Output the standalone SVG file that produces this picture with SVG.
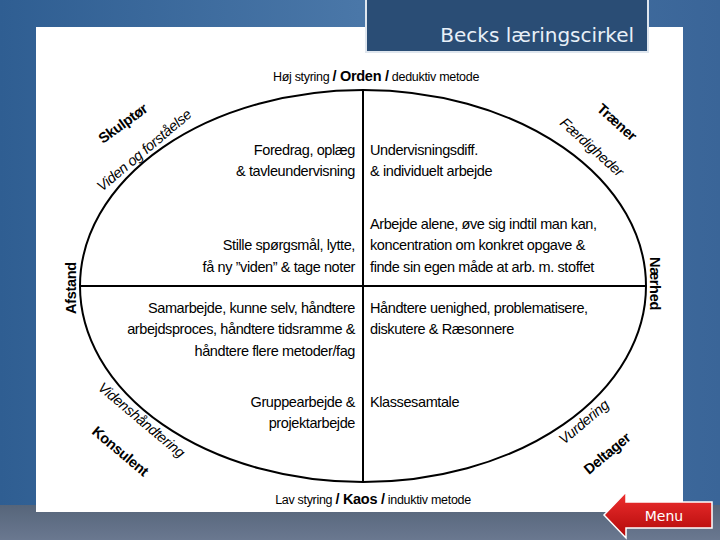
<svg xmlns="http://www.w3.org/2000/svg" width="720" height="540" viewBox="0 0 720 540">
<defs>
<linearGradient id="bg" x1="0" y1="0" x2="1" y2="0"><stop offset="0" stop-color="#2f5e92"/><stop offset="0.5" stop-color="#4a77a8"/><stop offset="1" stop-color="#3a6598"/></linearGradient>
<linearGradient id="bot" x1="0" y1="0" x2="0" y2="1"><stop offset="0" stop-color="#56657a"/><stop offset="1" stop-color="#6a7890"/></linearGradient>
<linearGradient id="red" x1="0" y1="0" x2="0" y2="1"><stop offset="0" stop-color="#f03030"/><stop offset="1" stop-color="#b00808"/></linearGradient>
</defs>
<style>
text{font-family:"Liberation Sans Narrow","Liberation Sans",Arial,sans-serif;fill:#000}
.t{font-size:14.5px;letter-spacing:-0.4px}
.b{font-weight:bold;font-size:14.5px;letter-spacing:-0.3px}
.i{font-style:italic;font-size:14.5px;letter-spacing:-0.3px}
.s{font-size:12.5px;letter-spacing:-0.3px}
</style>
<rect width="720" height="540" fill="url(#bg)"/>
<rect y="505" width="720" height="35" fill="url(#bot)"/>
<rect x="36" y="27" width="647" height="485" fill="#fff"/>
<g id="title"><rect x="366" y="-2" width="282" height="54" fill="#2a4d75" stroke="#dfe6ee" stroke-width="2"/>
<text x="634" y="42" text-anchor="end" style="font-family:'DejaVu Sans',sans-serif;font-size:20px;fill:#e8f0f8">Becks læringscirkel</text></g>
<g id="connectors" stroke="#000" stroke-width="2" fill="none">
<ellipse cx="363" cy="286" rx="283" ry="196"/>
<line x1="363" y1="90" x2="363" y2="482"/>
<line x1="80" y1="286" x2="646" y2="286"/>
</g>
<g id="top"><text x="376" y="81" text-anchor="middle"><tspan class="s">Høj styring </tspan><tspan class="b">/ Orden /</tspan><tspan class="s"> deduktiv metode</tspan></text></g>
<g id="bottom"><text x="373" y="504" text-anchor="middle"><tspan class="s">Lav styring </tspan><tspan class="b">/ Kaos /</tspan><tspan class="s"> induktiv metode</tspan></text></g>
<g id="q1">
<text x="355" y="155" text-anchor="end" class="t">Foredrag, oplæg</text>
<text x="355" y="176" text-anchor="end" class="t">&amp; tavleundervisning</text>
<text x="355" y="250" text-anchor="end" class="t">Stille spørgsmål, lytte,</text>
<text x="355" y="272" text-anchor="end" class="t">få ny ”viden” &amp; tage noter</text>
</g>
<g id="q2">
<text x="370" y="155" class="t">Undervisningsdiff.</text>
<text x="370" y="176" class="t"> &amp; individuelt arbejde</text>
<text x="370" y="229" class="t">Arbejde alene, øve sig indtil man kan,</text>
<text x="370" y="250" class="t">koncentration om konkret opgave &amp;</text>
<text x="370" y="272" class="t">finde sin egen måde at arb. m. stoffet</text>
</g>
<g id="q3">
<text x="355" y="313" text-anchor="end" class="t">Samarbejde, kunne selv, håndtere</text>
<text x="355" y="334" text-anchor="end" class="t">arbejdsproces, håndtere tidsramme &amp;</text>
<text x="355" y="356" text-anchor="end" class="t">håndtere flere metoder/fag</text>
<text x="355" y="407" text-anchor="end" class="t">Gruppearbejde &amp;</text>
<text x="355" y="428" text-anchor="end" class="t">projektarbejde</text>
</g>
<g id="q4">
<text x="370" y="313" class="t">Håndtere uenighed, problematisere,</text>
<text x="370" y="334" class="t">diskutere &amp; Ræsonnere</text>
<text x="370" y="407" class="t">Klassesamtale</text>
</g>
<g id="labels">
<text transform="translate(103,144) rotate(-36)" class="b">Skulptør</text>
<text transform="translate(102,192) rotate(-40)" class="i">Viden og forståelse</text>
<text transform="translate(596,110) rotate(42)" class="b">Træner</text>
<text transform="translate(559,124) rotate(42)" class="i">Færdigheder</text>
<text transform="translate(76,314) rotate(-90)" class="b">Afstand</text>
<text transform="translate(650,257) rotate(90)" class="b">Nærhed</text>
<text transform="translate(97,389) rotate(40)" class="i">Videnshåndtering</text>
<text transform="translate(91,433) rotate(40)" class="b">Konsulent</text>
<text transform="translate(564,445) rotate(-40)" class="i">Vurdering</text>
<text transform="translate(589,475) rotate(-40)" class="b">Deltager</text>
</g>
<g id="menu"><path d="M604,515 L626,492 L626,502 L712,502 L712,528 L626,528 L626,538 Z" fill="url(#red)" stroke="#fff" stroke-width="1.5"/>
<text x="664" y="521" text-anchor="middle" style="font-family:'DejaVu Sans',sans-serif;font-size:14px;fill:#fff">Menu</text></g>
</svg>
